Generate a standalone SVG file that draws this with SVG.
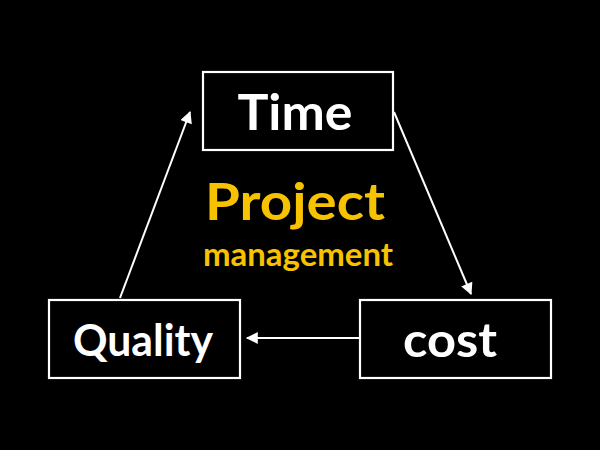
<svg xmlns="http://www.w3.org/2000/svg" width="600" height="450" viewBox="0 0 600 450">
<defs>
<style>
.box{fill:#000;stroke:#fff;stroke-width:2.2}
.lbl{fill:#fff;font-family:"Lato","Liberation Sans",sans-serif;font-weight:bold;text-anchor:middle}
.conn{stroke:#fff;stroke-width:2;fill:none;marker-end:url(#ah)}
.title{fill:#F7C200;font-family:"Lato","Liberation Sans",sans-serif;font-weight:bold;text-anchor:middle}
</style>
<marker id="ah" viewBox="0 0 10 10" refX="9" refY="5" markerWidth="13" markerHeight="12" orient="auto" markerUnits="userSpaceOnUse">
<path d="M0,0 L10,5 L0,10 z" fill="#fff"/>
</marker>
</defs>
<rect width="600" height="450" fill="#000"/>
<g id="connectors">
<line class="conn" x1="120" y1="298" x2="190" y2="112"/>
<line class="conn" x1="394" y1="112" x2="471" y2="294"/>
<line class="conn" x1="359" y1="338" x2="247" y2="338"/>
</g>
<g id="time">
<rect class="box" x="203" y="72" width="190" height="78"/>
<text class="lbl" x="295" y="130" font-size="50" textLength="115" lengthAdjust="spacingAndGlyphs">Time</text>
</g>
<g id="quality">
<rect class="box" x="49" y="300" width="191" height="78"/>
<text class="lbl" x="143" y="356" font-size="44" textLength="140" lengthAdjust="spacingAndGlyphs">Quality</text>
</g>
<g id="cost">
<rect class="box" x="360" y="300" width="191" height="78"/>
<text class="lbl" x="450" y="357" font-size="48" textLength="94" lengthAdjust="spacingAndGlyphs">cost</text>
</g>
<g id="title">
<text class="title" x="295" y="220" font-size="52" textLength="180" lengthAdjust="spacingAndGlyphs">Project</text>
<text class="title" x="298" y="266" font-size="32" textLength="190" lengthAdjust="spacingAndGlyphs">management</text>
</g>
</svg>
